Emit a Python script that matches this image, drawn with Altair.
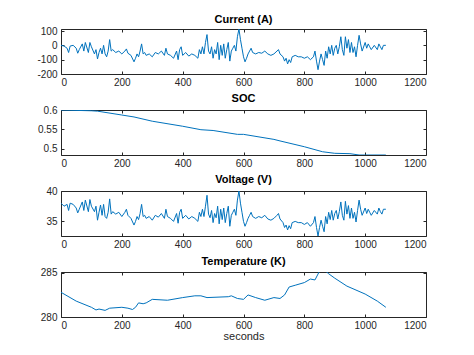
import altair as alt
import pandas as pd

# ---------------- data ----------------
t_fast = [0, 10, 20, 25, 30, 40, 50, 55, 60, 70,
          75, 80, 90, 95, 100, 110, 115, 120, 125, 130,
          135, 140, 145, 150, 155, 160, 165, 170, 180, 190,
          200, 210, 215, 220, 230, 240, 245, 250, 255, 260,
          265, 270, 275, 280, 290, 300, 310, 320, 330, 340,
          345, 350, 360, 370, 380, 385, 390, 395, 400, 410,
          420, 430, 440, 450, 455, 460, 465, 470, 475, 480,
          485, 490, 495, 500, 505, 510, 515, 520, 525, 530,
          535, 540, 545, 550, 555, 560, 565, 570, 575, 580,
          585, 590, 595, 600, 605, 610, 615, 620, 625, 630,
          640, 650, 660, 670, 680, 690, 700, 710, 715, 720,
          730, 735, 740, 745, 750, 755, 760, 770, 780, 790,
          800, 810, 820, 830, 835, 840, 845, 850, 855, 860,
          865, 870, 875, 880, 885, 890, 895, 900, 905, 910,
          915, 920, 925, 930, 935, 940, 945, 950, 955, 960,
          965, 970, 975, 980, 985, 990, 1000, 1005, 1010, 1015,
          1020, 1030, 1040, 1045, 1050, 1055, 1060, 1068]

current = [0, -5, -20, -50, -5, 0, -20, -55, -30, 10,
           -40, 20, -50, 20, -10, -60, -30, -95, -50, -20,
           -60, 0, -60, -80, -40, 40, -40, -30, -50, -40,
           -60, -40, -25, -55, -70, -115, -90, -60, -80, -40,
           10, -60, -50, -70, -60, -80, -50, -60, -40, -70,
           -20, -60, -70, -90, -40, -100, -30, -10, -70, -50,
           -75, -60, -70, -90, -30, -60, -10, -60, 20, 75,
           -40, -60, -10, -90, -30, -60, 20, -100, 0, -70,
           10, -90, -30, 20, -110, -40, -20, 0, -40, 60,
           114, 40, -20, -80, -115, -90, -60, -40, -20, -50,
           -60, -50, -55, -40, -60, -70, -60, -40, -30, -60,
           -80, -110, -90, -130, -100, -120, -80, -70, -80, -80,
           -90, -80, -100, -80, -40, -110, -170, -110, -60, -100,
           -140, -40, -90, -10, -60, 0, -70, -20, 0, -60,
           -10, 60, -30, -70, 60, -20, 40, -50, 20, -50,
           -10, -80, 0, 70, 10, -40, 20, -20, 10, -10,
           -30, 0, -30, 10, -10, -30, 0, 0]

voltage = [38, 37.5, 37.8, 36.8, 38, 37.8, 37.2, 36.4, 37, 38.2,
           36.8, 38.5, 36.6, 38.6, 37.5, 36.6, 37.5, 35.2, 36.5, 37.7,
           36, 37.8, 35.8, 35.5, 36.5, 38.7, 36.2, 36.6, 36.2, 36.5,
           35.8, 36.5, 37, 36, 35.5, 34.4, 35, 35.8, 35.3, 36.3,
           37.8, 35.8, 36, 35.5, 35.8, 35.2, 36, 35.7, 36.3, 35.5,
           37, 35.8, 35.5, 35, 36.3, 34.7, 36.5, 37, 35.5, 36,
           35.4, 35.8, 35.5, 35, 36.5, 35.8, 37, 35.8, 37.5, 39.3,
           36.2, 35.6, 36.8, 34.8, 36.3, 35.6, 37.5, 34.6, 37, 35.3,
           37.2, 34.8, 36.3, 37.5, 34.2, 36, 36.5, 37, 36, 38.5,
           40, 38, 36.5, 35, 34.2, 34.8, 35.5, 36, 36.5, 35.8,
           35.5, 35.8, 35.6, 36, 35.4, 35.2, 35.5, 36, 36.3, 35.4,
           34.8, 34, 34.4, 33.6, 34.3, 33.8, 34.8, 35, 34.8, 34.8,
           34.5, 34.8, 34.2, 34.8, 35.8, 34, 32.6, 34, 35.2, 34.2,
           33.3, 35.8, 34.6, 36.5, 35.3, 36.8, 35.2, 36.3, 36.8, 35.4,
           36.6, 38.2, 36, 35.2, 38.3, 36.2, 37.6, 35.5, 37.2, 35.5,
           36.5, 34.9, 36.8, 38.5, 37, 36, 37.2, 36.3, 37, 36.5,
           36, 36.8, 36.2, 37.2, 36.6, 36.2, 37, 37]

t_soc = [0, 100, 120, 200, 240, 300, 400, 460, 500, 580,
         600, 700, 720, 800, 860, 900, 950, 980, 1068]
soc = [0.6, 0.598, 0.597, 0.587, 0.582, 0.571, 0.558, 0.549, 0.547, 0.537,
       0.537, 0.524, 0.52, 0.505, 0.492, 0.488, 0.487, 0.4836, 0.4836]

t_temp = [0, 50, 100, 115, 125, 145, 160, 200, 220, 235,
          245, 255, 270, 280, 300, 350, 400, 440, 460, 480,
          550, 560, 580, 600, 615, 640, 670, 700, 720, 735,
          750, 770, 800, 820, 835, 850, 870, 880, 900, 940,
          960, 1000, 1040, 1068]
temperature = [282.8, 281.8, 281.1, 280.8, 280.9, 280.75, 281.0, 281.1, 281.0, 280.85,
               281.1, 281.6, 281.5, 281.6, 282.0, 281.9, 282.2, 282.4, 282.4, 282.2,
               282.3, 282.4, 282.1, 282.0, 282.5, 282.2, 281.9, 282.2, 282.1, 282.5,
               283.4, 283.6, 283.9, 284.3, 284.2, 285.2, 285.2, 284.9, 284.4, 283.5,
               283.2, 282.6, 281.8, 281.1]

x_ticks = [0, 200, 400, 600, 800, 1000, 1200]

# ---------------- styling ----------------
LINE = "#0072BD"
AX = "#262626"
FONT = "Arial"
TICK = 3


def panel(times, values, title, ydom, yticks, xtitle=""):
    df = pd.DataFrame({"t": times, "v": values})
    xscale = alt.Scale(domain=[0, 1200], nice=False)
    yscale = alt.Scale(domain=ydom, nice=False, zero=False)

    xaxis_kw = dict(values=x_ticks, orient="bottom", offset=-TICK, tickSize=TICK,
                    domain=False, grid=False, labelPadding=3, labelFontSize=10,
                    labelColor=AX, tickColor=AX, labelFont=FONT,
                    labelExpr="toString(datum.value)")
    if xtitle:
        xaxis_kw.update(title=xtitle, titleFontSize=11, titleFontWeight="normal",
                        titleColor=AX, titleFont=FONT, titlePadding=0)
    else:
        xaxis_kw.update(title="")

    main = alt.Chart(df).mark_line(color=LINE, strokeWidth=1, clip=True).encode(
        x=alt.X("t:Q", scale=xscale, axis=alt.Axis(**xaxis_kw)),
        y=alt.Y("v:Q", scale=yscale,
                axis=alt.Axis(values=yticks, orient="left", offset=-TICK, tickSize=TICK,
                              domain=False, grid=False, labelPadding=4, labelFontSize=10,
                              labelColor=AX, tickColor=AX, labelFont=FONT,
                              labelExpr="toString(datum.value)", title="")),
    )
    ghost = alt.Chart(df).mark_line(strokeOpacity=0).encode(
        x=alt.X("t:Q", scale=xscale,
                axis=alt.Axis(values=x_ticks, orient="top", offset=-TICK, tickSize=TICK,
                              domain=False, grid=False, labels=False, tickColor=AX, title="")),
        y=alt.Y("v:Q", scale=yscale,
                axis=alt.Axis(values=yticks, orient="right", offset=-TICK, tickSize=TICK,
                              domain=False, grid=False, labels=False, tickColor=AX, title="")),
    )
    return alt.layer(main, ghost).resolve_axis(x="independent", y="independent").properties(
        width=365, height=45,
        title=alt.TitleParams(title, fontSize=11, fontWeight="bold", font=FONT,
                              color="black", offset=1),
    )


p1 = panel(t_fast, current, "Current (A)", [-200, 114], [-200, -100, 0, 100])
p2 = panel(t_soc, soc, "SOC", [0.4836, 0.6], [0.5, 0.55, 0.6])
p3 = panel(t_fast, voltage, "Voltage (V)", [32.6, 40], [35, 40])
p4 = panel(t_temp, temperature, "Temperature (K)", [280, 285.1], [280, 285], xtitle="seconds")

chart = alt.vconcat(p1, p2, p3, p4, spacing=36, bounds="flush").configure_view(
    stroke=AX, strokeWidth=1
).properties(
    padding={"left": 28, "top": 5, "right": 5, "bottom": 5},
    background="white",
)

chart.save("out.html", embed_options={"renderer": "svg", "actions": False})
